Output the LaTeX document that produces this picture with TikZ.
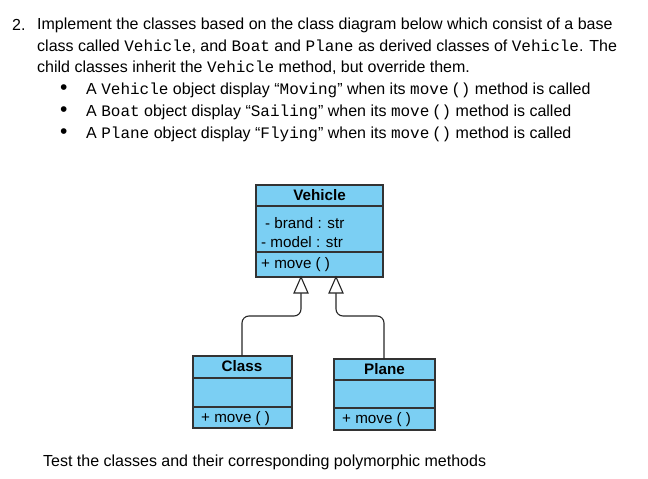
\documentclass[tikz,border=0pt]{standalone}
\usepackage{fontspec}
\setmainfont{Liberation Sans}
\setmonofont{Liberation Mono}
\begin{document}
\begin{tikzpicture}[x=1pt,y=-1pt,
  txt/.style={anchor=west,inner sep=0,font=\fontsize{16}{18}\selectfont},
  uml/.style={draw=black!80,fill={rgb,255:red,123;green,207;blue,243},line width=1.1pt},
  lab/.style={inner sep=0,font=\fontsize{15.2}{17}\selectfont},
  inh/.style={draw=black!85,line width=1.1pt,rounded corners=7pt},
  tri/.style={draw=black!85,fill=white,line width=1.1pt}]
\useasboundingbox (0,0) rectangle (648,479);
\newcommand{\cd}[1]{{\ttfamily #1}}
\newcommand{\mv}{\cd{move}\,\cd{()}}
\node[txt] (n) at (12,25) {2.};
\node[txt] (l1) at (37,25) {Implement the classes based on the class diagram below which consist of a base};
\node[txt] (l2) at (37,47) {class called \cd{Vehicle}, and \cd{Boat} and \cd{Plane} as derived classes of \cd{Vehicle}. The};
\node[txt] (l3) at (37,68) {child classes inherit the \cd{Vehicle} method, but override them.};
\foreach \y/\t [count=\i] in {90/{A \cd{Vehicle} object display “\cd{Moving}” when its \mv{} method is called},
  112/{A \cd{Boat} object display “\cd{Sailing}” when its \mv{} method is called},
  134/{A \cd{Plane} object display “\cd{Flying}” when its \mv{} method is called}}{
  \node[txt,font=\fontsize{21}{21}\selectfont] (b\i) at (60,\y) {\textbullet};
  \node[txt] (t\i) at (86,\y) {\t};
}
\node[txt] (last) at (43,462) {Test the classes and their corresponding polymorphic methods};
% Vehicle
\path[uml] (256,185) rectangle (383,277);
\draw[black!80,line width=1.1pt] (256,206) -- (383,206) (256,252) -- (383,252);
\node[lab,font=\bfseries\fontsize{15.2}{17}\selectfont] (vh) at (319.5,195) {Vehicle};
\node[lab,anchor=west] (va1) at (265,223) {- brand : str};
\node[lab,anchor=west] (va2) at (261,242) {- model : str};
\node[lab,anchor=west] (vm) at (261,265) {+ move ( )};
\coordinate (vt1) at (301,277);
\coordinate (vt2) at (336,277);
% Class
\path[uml] (193,356) rectangle (292,428);
\draw[black!80,line width=1.1pt] (193,378) -- (292,378) (193,407) -- (292,407);
\node[lab,font=\bfseries\fontsize{15.2}{17}\selectfont] (ch) at (242,366) {Class};
\node[lab,anchor=west] (cm) at (201,419) {+ move ( )};
\coordinate (ct) at (242,356);
% Plane
\path[uml] (334,359) rectangle (435,430);
\draw[black!80,line width=1.1pt] (334,380) -- (435,380) (334,408) -- (435,408);
\node[lab,font=\bfseries\fontsize{15.2}{17}\selectfont] (ph) at (384.5,369) {Plane};
\node[lab,anchor=west] (pm) at (342,420) {+ move ( )};
\coordinate (pt) at (384,359);
% inheritance
\draw[inh] (ct) -- (242,316) -- (301,316) -- (301,293);
\draw[inh] (pt) -- (384,316) -- (336,316) -- (336,293);
\path[tri] (vt1) -- ++(-7,16) -- ++(14,0) -- cycle;
\path[tri] (vt2) -- ++(-7,16) -- ++(14,0) -- cycle;
\end{tikzpicture}
\end{document}
